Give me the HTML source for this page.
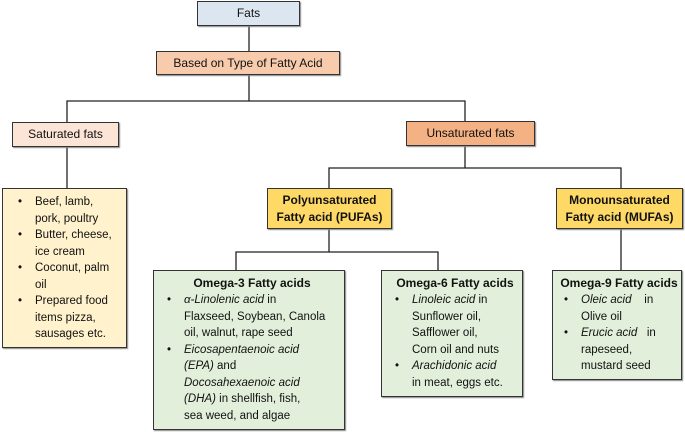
<!DOCTYPE html>
<html><head><meta charset="utf-8"><style>
body{margin:0;width:685px;height:432px;background:#fff;position:relative;overflow:hidden;font-family:"Liberation Sans",sans-serif;color:#111}
.b{position:absolute;box-sizing:border-box;border:1.3px solid #333;box-shadow:1px 1px 1px #888;display:flex;align-items:center;justify-content:center;text-align:center;font-size:12px;line-height:15px}
.t{font-size:11.5px;line-height:16.5px;position:absolute;box-sizing:border-box;border:1.3px solid #333;box-shadow:1px 1px 1px #888}
ul{margin:0;padding:0 0 0 22px;list-style:none}
li{position:relative}
li:before{content:"•";position:absolute;left:-17px}
h4{margin:0;text-align:center;font-size:12px;font-weight:bold;line-height:17px}
i{font-style:italic}
</style></head><body>
<svg width="685" height="432" style="position:absolute;left:0;top:0">
<g stroke="#222" stroke-width="1.3" fill="none">
<line x1="249" y1="26" x2="249" y2="51"/>
<line x1="249" y1="75" x2="249" y2="101"/>
<polyline points="67,122 67,101 465,101 465,121"/>
<line x1="67" y1="147" x2="67" y2="188"/>
<line x1="465" y1="146" x2="465" y2="168"/>
<polyline points="329,188 329,168 621,168 621,188"/>
<line x1="329" y1="229" x2="329" y2="252"/>
<polyline points="236,270 236,252 438,252 438,270"/>
<line x1="621" y1="229" x2="621" y2="270"/>
</g></svg>
<div class="b" style="left:197px;top:1px;width:103px;height:25px;background:#dce6f1">Fats</div>
<div class="b" style="left:156px;top:51px;width:184px;height:24px;background:#f8cbad">Based on Type of Fatty Acid</div>
<div class="b" style="left:12px;top:122px;width:107px;height:25px;background:#fce4d6">Saturated fats</div>
<div class="b" style="left:406px;top:121px;width:129px;height:25px;background:#f4b183">Unsaturated fats</div>
<div class="b" style="left:267px;top:188px;width:125px;height:41px;background:#ffd966;font-weight:bold;line-height:17px">Polyunsaturated<br>Fatty acid (PUFAs)</div>
<div class="b" style="left:556px;top:188px;width:127px;height:41px;background:#ffd966;font-weight:bold;line-height:17px">Monounsaturated<br>Fatty acid (MUFAs)</div>
<div class="t" style="left:2px;top:188px;width:125px;height:160px;background:#fff2cc;padding:5px 2px 0 10px"><ul style="padding-left:22px">
<li>Beef, lamb,<br>pork, poultry</li><li>Butter, cheese,<br>ice cream</li><li>Coconut, palm<br>oil</li><li>Prepared food<br>items pizza,<br>sausages etc.</li></ul></div>
<div class="t" style="left:153px;top:270px;width:192px;height:160px;background:#e2efda;padding:4px 2px 0 8px"><h4>Omega-3 Fatty acids</h4><ul>
<li><i>α-Linolenic acid</i> in<br>Flaxseed, Soybean, Canola<br>oil, walnut, rape seed</li>
<li><i>Eicosapentaenoic acid<br>(EPA)</i> and<br><i>Docosahexaenoic acid<br>(DHA)</i> in shellfish, fish,<br>sea weed, and algae</li></ul></div>
<div class="t" style="left:381px;top:270px;width:142px;height:127px;background:#e2efda;padding:4px 2px 0 8px"><h4>Omega-6 Fatty acids</h4><ul>
<li><i>Linoleic acid</i> in<br>Sunflower oil,<br>Safflower oil,<br>Corn oil and nuts</li>
<li><i>Arachidonic acid</i><br>in meat, eggs etc.</li></ul></div>
<div class="t" style="left:552px;top:270px;width:130px;height:110px;background:#e2efda;padding:4px 2px 0 6px"><h4>Omega-9 Fatty acids</h4><ul>
<li><i>Oleic acid</i> &nbsp;&nbsp; in<br>Olive oil</li>
<li><i>Erucic acid</i> &nbsp; in<br>rapeseed,<br>mustard seed</li></ul></div>
</body></html>
